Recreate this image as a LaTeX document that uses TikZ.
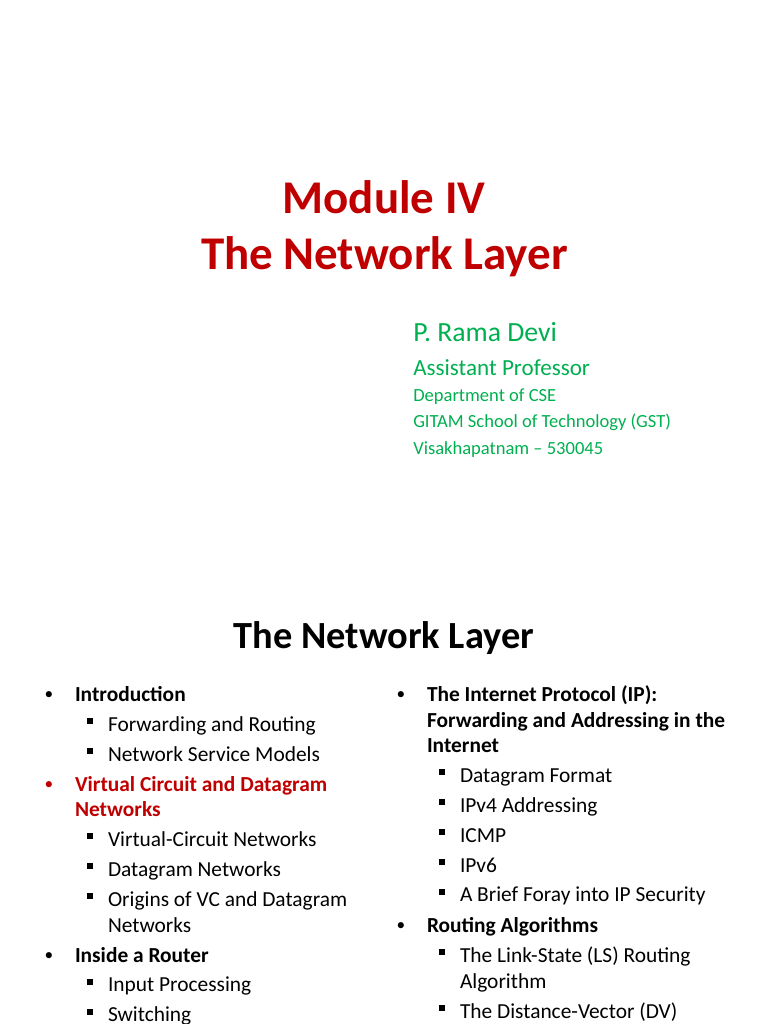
\documentclass[tikz,border=0pt]{standalone}
\usepackage{fontspec}
\setmainfont{Carlito}
\definecolor{rd}{HTML}{C00000}
\definecolor{gn}{HTML}{00B050}
\tikzset{
  px/.style={x=0.75pt,y=-0.75pt},
  tx/.style={anchor=base west,inner sep=0pt,outer sep=0pt,font=\fontsize{16.05pt}{18pt}\selectfont},
  bd/.style={tx,font=\fontsize{16.05pt}{18pt}\selectfont\bfseries},
  title/.style={anchor=base,inner sep=0pt,font=\fontsize{35.2pt}{38pt}\selectfont\bfseries},
  gt/.style={anchor=base west,inner sep=0pt,text=gn},
  small/.style={gt,font=\fontsize{13.9pt}{16pt}\selectfont},
  dot/.style={anchor=base,inner sep=0pt,font=\fontsize{13pt}{16pt}\selectfont}
}
\newcommand{\sqb}[2]{\fill (#1-3,#2-12) rectangle (#1+3,#2-6);}
\begin{document}
\begin{tikzpicture}[px]
\useasboundingbox (0,0) rectangle (768,1024);
\fill[white] (0,0) rectangle (768,1024);
\node[title,text=rd] (t1) at (384,213) {Module IV};
\node[title,text=rd] (t2) at (384.5,269) {The Network Layer};
\node[gt,font=\fontsize{20.8pt}{24pt}\selectfont] (a1) at (413,341) {P. Rama Devi};
\node[gt,font=\fontsize{17.3pt}{20pt}\selectfont] (a2) at (413,375) {Assistant Professor};
\node[small] (a3) at (413,401) {Department of CSE};
\node[small] (a4) at (413,427) {GITAM School of Technology (GST)};
\node[small] (a5) at (413,454) {Visakhapatnam – 530045};
\node[title,text=black,font=\fontsize{28.8pt}{32pt}\selectfont\bfseries] (t3) at (384,648) {The Network Layer};
% left column
\node[dot] (d1) at (49,699) {•};
\node[bd] (l1) at (75,701) {Introduction};
\sqb{90}{730}\node[tx] (l2) at (108,731) {Forwarding and Routing};
\sqb{90}{760}\node[tx] (l3) at (108,761) {Network Service Models};
\node[dot,text=rd] (d2) at (49,789) {•};
\node[bd,text=rd] (l4) at (75,791) {Virtual Circuit and Datagram};
\node[bd,text=rd] (l5) at (75,816) {Networks};
\sqb{90}{845}\node[tx] (l6) at (108,846) {Virtual-Circuit Networks};
\sqb{90}{875}\node[tx] (l7) at (108,876) {Datagram Networks};
\sqb{90}{905}\node[tx] (l8) at (108,906) {Origins of VC and Datagram};
\node[tx] (l9) at (108,932) {Networks};
\node[dot] (d3) at (49,960) {•};
\node[bd] (l10) at (75,962) {Inside a Router};
\sqb{90}{991}\node[tx] (l11) at (108,991) {Input Processing};
\sqb{90}{1021}\node[tx] (l12) at (108,1021) {Switching};
% right column
\node[dot] (d4) at (401,699) {•};
\node[bd] (r1) at (427,701) {The Internet Protocol (IP):};
\node[bd] (r2) at (427,727) {Forwarding and Addressing in the};
\node[bd] (r3) at (427,752) {Internet};
\sqb{442}{781}\node[tx] (r4) at (460,782) {Datagram Format};
\sqb{442}{811}\node[tx] (r5) at (460,812) {IPv4 Addressing};
\sqb{442}{841}\node[tx] (r6) at (460,842) {ICMP};
\sqb{442}{871}\node[tx] (r7) at (460,872) {IPv6};
\sqb{442}{901}\node[tx] (r8) at (460,901) {A Brief Foray into IP Security};
\node[dot] (d5) at (401,930) {•};
\node[bd] (r9) at (427,932) {Routing Algorithms};
\sqb{442}{961}\node[tx] (r10) at (460,962) {The Link-State (LS) Routing};
\node[tx] (r11) at (460,988) {Algorithm};
\sqb{442}{1017}\node[tx] (r12) at (460,1018) {The Distance-Vector (DV)};
\end{tikzpicture}
\end{document}
